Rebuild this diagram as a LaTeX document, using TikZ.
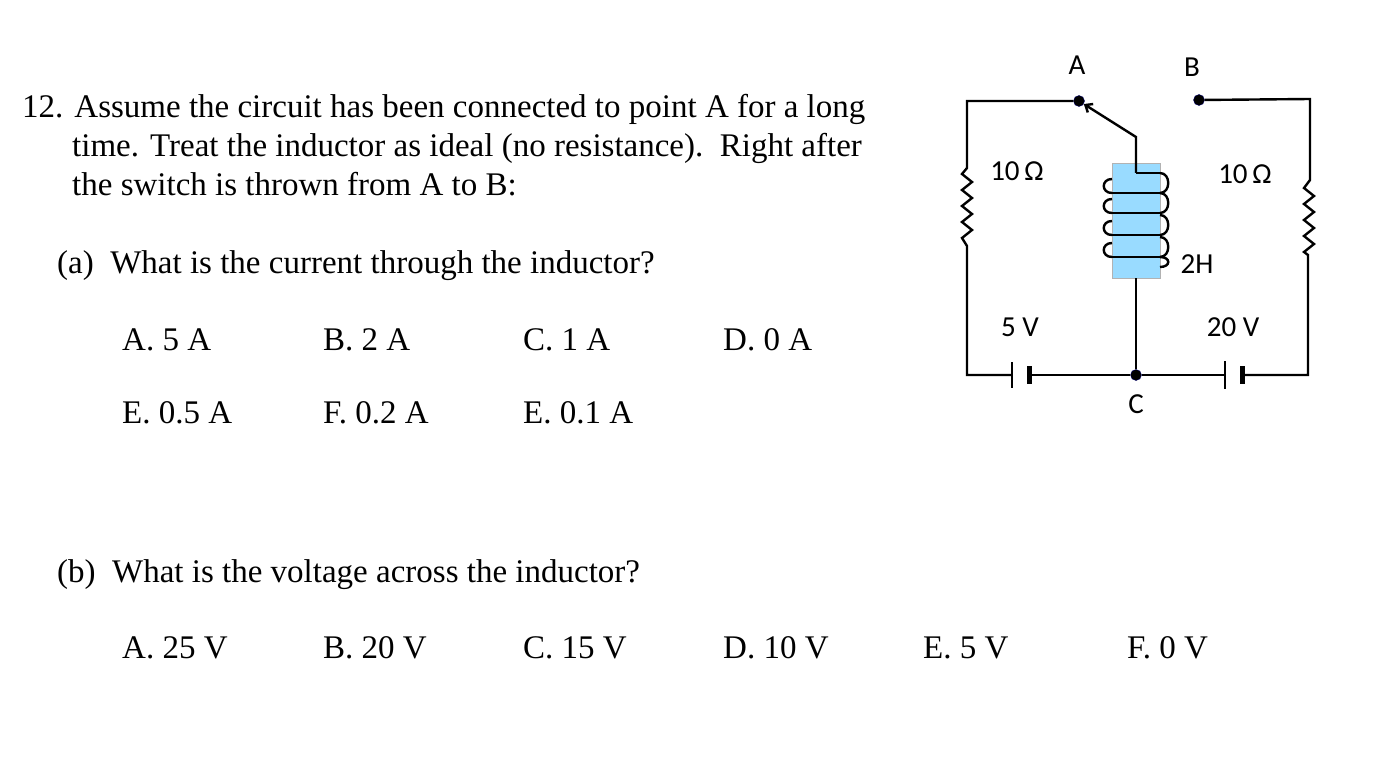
\documentclass[tikz,border=0pt]{standalone}
\usepackage{fontspec}
\setmainfont{Liberation Serif}
\newfontfamily\carlitofont{Carlito}
\usetikzlibrary{arrows.meta}
\begin{document}
\begin{tikzpicture}[x=1pt,y=-1pt,
  q/.style={anchor=base west,inner sep=0pt,font=\fontsize{33}{36}\selectfont},
  lab/.style={anchor=base,inner sep=0pt,font=\carlitofont\fontsize{29}{31}\selectfont},
  w/.style={line width=2.4pt},
  dot/.style={circle,fill=black,draw=blue!40!black,inner sep=0pt,minimum size=11pt}]
\useasboundingbox (0,0) rectangle (1390,778);
\node[q] (l1) at (22,118) {12. Assume the circuit has been connected to point A for a long};
\node[q] (l2) at (72,157) {time. Treat the inductor as ideal (no resistance).\ \ Right after};
\node[q] (l3) at (72,196) {the switch is thrown from A to B:};
\node[q] (qa) at (57,273) {(a)\ \ What is the current through the inductor?};
\node[q] (a1) at (122,350) {A.\ 5 A};
\node[q] (a2) at (323,350) {B.\ 2 A};
\node[q] (a3) at (523,350) {C.\ 1 A};
\node[q] (a4) at (723,350) {D.\ 0 A};
\node[q] (a5) at (122,423) {E.\ 0.5 A};
\node[q] (a6) at (323,423) {F.\ 0.2 A};
\node[q] (a7) at (523,423) {E.\ 0.1 A};
\node[q] (qb) at (57,582) {(b)\ \ What is the voltage across the inductor?};
\node[q] (b1) at (122,658) {A.\ 25 V};
\node[q] (b2) at (323,658) {B.\ 20 V};
\node[q] (b3) at (523,658) {C.\ 15 V};
\node[q] (b4) at (723,658) {D.\ 10 V};
\node[q] (b5) at (923,658) {E.\ 5 V};
\node[q] (b6) at (1127,658) {F.\ 0 V};
% circuit
\node[dot] (A) at (1079,101) {};
\node[dot] (B) at (1199,100) {};
\node[dot] (C) at (1136,375) {};
\fill[blue!35!cyan!40] (1112,163) rectangle (1160,278);
\draw[gray!60] (1112,163) rectangle (1160,278);
\draw[w] (A) -- (967,101) -- (967,168) -- (962,174) -- (972,182) -- (962,190) -- (972,198) -- (962,206) -- (972,214) -- (962,222) -- (972,230) -- (962,238) -- (967,246) -- (967,375) -- (1012,375);
\draw[w] (1012,362) -- (1012,388);
\draw[line width=5pt] (1029,366) -- (1029,384);
\draw[w] (1029,375) -- (C) -- (1225,375);
\draw[w] (1225,361) -- (1225,389);
\draw[line width=5pt] (1242,366) -- (1242,384);
\draw[w] (1242,375) -- (1308,375) -- (1308,255) -- (1304,252) -- (1314,244) -- (1304,236) -- (1314,228) -- (1304,220) -- (1314,212) -- (1304,204) -- (1314,196) -- (1304,188) -- (1310,180) -- (1310,99) -- (B);
% inductor
\draw[w] (C) -- (1136,278);
\draw[w,-{Straight Barb[length=6pt,width=10pt]}] (1136,173) -- (1136,137) -- (A);
\draw[w] (1136,173) -- (1160,173);
\foreach \y in {193,213,235,257}{
  \draw[w] (1112,\y) -- (1160,\y);
  \draw[w] (1160,\y-20) .. controls (1171,\y-20) and (1171,\y) .. (1160,\y);
  \draw[w] (1112,\y-14) .. controls (1101,\y-14) and (1101,\y) .. (1112,\y);
}
\draw[w] (1160,257) .. controls (1171,257) and (1171,267) .. (1160,267);
\node[lab] (tA) at (1077,75) {A};
\node[lab] (tB) at (1192,77) {B};
\node[lab] (tC) at (1136,413) {C};
\node[lab] (r1) at (1017,181) {10\,Ω};
\node[lab] (r2) at (1245,184) {10\,Ω};
\node[lab] (L) at (1197,273) {2H};
\node[lab] (v1) at (1020,336) {5 V};
\node[lab] (v2) at (1233,336) {20 V};
\end{tikzpicture}
\end{document}
